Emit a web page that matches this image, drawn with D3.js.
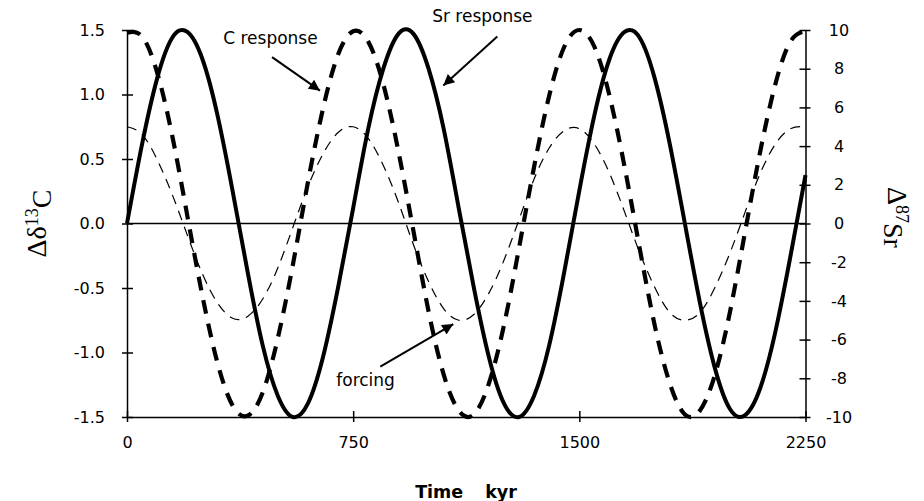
<!DOCTYPE html>
<html>
<head>
<meta charset="utf-8">
<script src="https://cdn.jsdelivr.net/npm/d3@7/dist/d3.min.js"></script>
<style>
  body { margin: 0; background: #fff; }
  svg text { font-family: "DejaVu Sans", Arial, sans-serif; fill: #000; }
  .axis path, .axis line { stroke: #000; stroke-width: 1.5px; }
</style>
</head>
<body>
<div id="chart"></div>
<script>
// time in kyr
var timeKyr = [0, 50, 100, 150, 200, 250, 300, 350, 400, 450,
  500, 550, 600, 650, 700, 750, 800, 850, 900, 950,
  1000, 1050, 1100, 1150, 1200, 1250, 1300, 1350, 1400, 1450,
  1500, 1550, 1600, 1650, 1700, 1750, 1800, 1850, 1900, 1950,
  2000, 2050, 2100, 2150, 2200, 2250];

// Sr response, delta 87Sr (right axis)
var srResponse = [0.0, 4.1, 7.5, 9.6, 9.9, 8.5, 5.6, 1.7, -2.5, -6.3,
  -8.9, -10.0, -9.3, -6.9, -3.3, 0.8, 4.9, 8.0, 9.8, 9.8,
  8.0, 4.9, 0.8, -3.3, -6.9, -9.3, -10.0, -8.9, -6.3, -2.5,
  1.7, 5.6, 8.5, 9.9, 9.6, 7.5, 4.1, 0.0, -4.1, -7.5,
  -9.6, -9.9, -8.5, -5.6, -1.7, 2.5];

// forcing (right axis units)
var forcing = [5.0, 4.6, 3.3, 1.5, -0.6, -2.6, -4.1, -4.9, -4.8, -3.9,
  -2.3, -0.2, 1.9, 3.6, 4.7, 5.0, 4.4, 3.0, 1.1, -1.1,
  -3.0, -4.4, -5.0, -4.7, -3.6, -1.9, 0.2, 2.3, 3.9, 4.8,
  4.9, 4.1, 2.6, 0.6, -1.5, -3.3, -4.6, -5.0, -4.6, -3.3,
  -1.5, 0.6, 2.6, 4.1, 4.9, 5.0];

// C response, delta d13C (left axis)
var cResponse = [1.48, 1.45, 1.17, 0.68, 0.06, -0.56, -1.08, -1.41, -1.49, -1.31,
  -0.89, -0.32, 0.32, 0.89, 1.31, 1.49, 1.41, 1.08, 0.56, -0.06,
  -0.68, -1.17, -1.45, -1.48, -1.24, -0.79, -0.19, 0.44, 0.99, 1.37,
  1.50, 1.37, 0.99, 0.44, -0.19, -0.79, -1.24, -1.48, -1.45, -1.17,
  -0.68, -0.06, 0.56, 1.08, 1.41, 1.49];

var xTicks = [0, 750, 1500, 2250];
var leftTicks = [-1.5, -1.0, -0.5, 0.0, 0.5, 1.0, 1.5];
var rightTicks = [-10, -8, -6, -4, -2, 0, 2, 4, 6, 8, 10];

// annotations in data units (t kyr, left axis value)
var labels = [
  { text: "C response", t: 319, v: 1.39, t0: 481, v0: 1.29, t1: 640, v1: 1.03 },
  { text: "Sr response", t: 1012, v: 1.56, t0: 1228, v0: 1.45, t1: 1049, v1: 1.07 },
  { text: "forcing", t: 694, v: -1.26, t0: 840, v0: -1.11, t1: 1082, v1: -0.78 }
];

var W = 924, H = 501;
var margin = { top: 30, right: 118.5, bottom: 84, left: 127 };
var width = W - margin.left - margin.right,
    height = H - margin.top - margin.bottom;

var svg = d3.select("#chart").append("svg")
  .attr("width", W).attr("height", H);

var defs = svg.append("defs");
defs.append("marker").attr("id", "head")
  .attr("viewBox", "0 0 10 10").attr("refX", 10).attr("refY", 5)
  .attr("markerWidth", 8).attr("markerHeight", 5.5)
  .attr("markerUnits", "strokeWidth")
  .attr("orient", "auto")
  .append("path").attr("d", "M0,0 L10,5 L0,10 Z").attr("fill", "#000");

var g = svg.append("g")
  .attr("transform", "translate(" + margin.left + "," + margin.top + ")");

var x = d3.scaleLinear().domain([0, 2250]).range([0, width]);
var yL = d3.scaleLinear().domain([-1.5, 1.5]).range([height, 0]);
var yR = d3.scaleLinear().domain([-10, 10]).range([height, 0]);

// axes
var fmt = function (d) { return d.toFixed(1); };

var axL = g.append("g").attr("class", "axis")
  .call(d3.axisLeft(yL).tickValues(leftTicks).tickFormat(fmt)
    .tickSize(5).tickSizeOuter(0).tickPadding(17));
axL.selectAll(".tick line").attr("x1", 6);

var axR = g.append("g").attr("class", "axis")
  .attr("transform", "translate(" + width + ",0)")
  .call(d3.axisRight(yR).tickValues(rightTicks)
    .tickFormat(function (d) { return String(d); })
    .tickSize(5).tickSizeOuter(0).tickPadding(28));
axR.selectAll(".tick line").attr("x1", -6);
axR.selectAll(".tick text").attr("text-anchor", "middle").attr("x", 33.5);

var axB = g.append("g").attr("class", "axis")
  .attr("transform", "translate(0," + height + ")")
  .call(d3.axisBottom(x).tickValues(xTicks).tickFormat(d3.format("d"))
    .tickSize(5).tickSizeOuter(0).tickPadding(15));
axB.selectAll(".tick line").attr("y1", -6);

[axL, axR, axB].forEach(function (a) {
  a.selectAll("text").style("font-size", "16px")
    .style("font-family", "'DejaVu Sans', Arial, sans-serif");
});

// zero line
g.append("line")
  .attr("x1", 0).attr("x2", width)
  .attr("y1", yL(0)).attr("y2", yL(0))
  .attr("stroke", "#000").attr("stroke-width", 1.5);

// series
var idx = d3.range(timeKyr.length);

var lineR = function (vals) {
  return d3.line().curve(d3.curveNatural)
    .x(function (i) { return x(timeKyr[i]); })
    .y(function (i) { return yR(vals[i]); })(idx);
};
var lineL = function (vals) {
  return d3.line().curve(d3.curveNatural)
    .x(function (i) { return x(timeKyr[i]); })
    .y(function (i) { return yL(vals[i]); })(idx);
};

g.append("path").attr("d", lineR(forcing))
  .attr("fill", "none").attr("stroke", "#000")
  .attr("stroke-width", 1.2).attr("stroke-dasharray", "10,7");

g.append("path").attr("d", lineL(cResponse))
  .attr("fill", "none").attr("stroke", "#000")
  .attr("stroke-width", 4.2).attr("stroke-dasharray", "14,10");

g.append("path").attr("d", lineR(srResponse))
  .attr("fill", "none").attr("stroke", "#000")
  .attr("stroke-width", 4);

// annotations
labels.forEach(function (d) {
  g.append("text")
    .attr("x", x(d.t)).attr("y", yL(d.v))
    .style("font-size", "17px")
    .text(d.text);
  g.append("line")
    .attr("x1", x(d.t0)).attr("y1", yL(d.v0))
    .attr("x2", x(d.t1)).attr("y2", yL(d.v1))
    .attr("stroke", "#000").attr("stroke-width", 2)
    .attr("marker-end", "url(#head)");
});

// axis titles
var tl = svg.append("text")
  .attr("transform", "translate(46," + (margin.top + yL(0)) + ") rotate(-90)")
  .attr("text-anchor", "middle")
  .style("font-family", "'Liberation Serif', 'Times New Roman', serif")
  .style("font-size", "28px");
tl.append("tspan").text("\u0394\u03b4");
tl.append("tspan").attr("dy", "-0.45em").style("font-size", "18px").text("13");
tl.append("tspan").attr("dy", "0.45em").text("C");

var tr = svg.append("text")
  .attr("transform", "translate(888," + (margin.top + yL(0) - 6) + ") rotate(90)")
  .attr("text-anchor", "middle")
  .style("font-family", "'Liberation Serif', 'Times New Roman', serif")
  .style("font-size", "28px");
tr.append("tspan").text("\u0394");
tr.append("tspan").attr("dy", "-0.45em").style("font-size", "18px").text("87");
tr.append("tspan").attr("dy", "0.45em").text("Sr");

// x title
svg.append("text").attr("x", margin.left + x(1115)).attr("y", 498)
  .attr("text-anchor", "end")
  .style("font-weight", "bold").style("font-size", "17.5px")
  .text("Time");
svg.append("text").attr("x", margin.left + x(1188)).attr("y", 498)
  .style("font-weight", "bold").style("font-size", "17.5px")
  .text("kyr");
</script>
</body>
</html>
